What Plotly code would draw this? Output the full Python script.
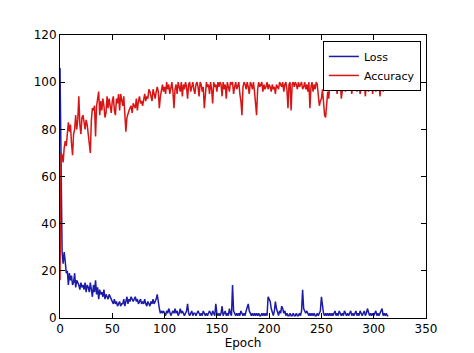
import plotly.graph_objects as go

accuracy = [
    16, 70, 69, 66, 72, 75, 73, 80, 83, 79,
    82, 74, 69, 78, 80, 86, 80, 84, 94, 82,
    78, 85, 86, 83, 80, 84, 82, 78, 75, 70,
    84, 89, 88, 90, 77, 90, 93, 96, 86, 92,
    88, 93, 90, 85, 87, 94, 89, 93, 90, 87,
    92, 94, 88, 86, 93, 91, 95, 88, 95, 92,
    90, 94, 86, 79, 85, 87, 88, 89, 90, 87,
    91, 90, 89, 93, 88, 92, 94, 91, 92, 90,
    93, 95, 92, 94, 93, 97, 96, 94, 92, 97,
    95, 93, 96, 98, 96, 89, 94, 97, 99, 96,
    98, 95, 100, 97, 99, 95, 98, 100, 96, 89,
    97, 99, 95, 100, 98, 96, 100, 94, 99, 97,
    100, 98, 93, 99, 100, 96, 98, 100, 97, 95,
    99, 100, 98, 94, 100, 99, 96, 98, 89, 97,
    100, 98, 99, 95, 100, 97, 91, 100, 98, 99,
    96, 100, 98, 100, 99, 94, 100, 97, 99, 93,
    100, 98, 96, 100, 99, 100, 95, 98, 100, 97,
    99, 100, 95, 92, 86, 98, 100, 99, 97, 100,
    98, 95, 100, 99, 97, 100, 96, 92, 86, 97,
    100, 98, 99, 100, 96, 99, 97, 98, 100, 97,
    99, 98, 96, 99, 97, 98, 95, 99, 98, 97,
    100, 99, 98, 100, 96, 99, 100, 97, 89, 99,
    100, 88, 99, 100, 98, 100, 99, 97, 100, 98,
    99, 100, 97, 98, 100, 97, 99, 96, 100, 89,
    98, 100, 96, 99, 97, 100, 99, 94, 90, 92,
    93, 97, 89, 86, 85, 90, 96, 93, 99, 97,
    100, 98, 97, 99, 100, 95, 99, 97, 100, 93,
    98, 100, 99, 96, 100, 98, 99, 97, 100, 95,
    99, 98, 100, 97, 96, 100, 99, 95, 98, 100,
    97, 99, 94, 100, 98, 96, 100, 97, 99, 95,
    100, 98, 96, 100, 97, 99, 94, 100, 98, 96,
    99, 100, 97, 99, 98,
]

loss = [
    106, 45, 28, 23, 28, 24, 19, 20, 14, 19,
    16, 18, 14, 15, 19, 13, 16, 15, 14, 12,
    15, 13, 14, 12, 15, 11, 14, 13, 11, 15,
    12, 9, 14, 11, 16, 10, 13, 8, 12, 10,
    11, 9, 12, 8, 10, 9, 8, 10, 9, 8,
    7, 6, 8, 6, 7, 5, 6, 7, 5, 6,
    6, 8, 5, 7, 9, 6, 8, 7, 9, 8,
    7, 8, 9, 7, 8, 6, 7, 8, 6, 7,
    6, 8, 6, 5, 7, 6, 5, 7, 6, 8,
    6, 7, 8, 10, 6, 4, 2, 3, 2, 3,
    2, 1, 3, 2, 4, 2, 1, 2, 3, 2,
    4, 2, 3, 1, 2, 4, 2, 3, 2, 1,
    2, 3, 6, 2, 1, 2, 3, 1, 2, 2,
    1, 2, 3, 2, 1, 2, 1, 3, 2, 1,
    2, 1, 2, 3, 2, 1, 3, 2, 1, 6,
    2, 1, 2, 1, 2, 5, 1, 2, 3, 1,
    2, 1, 4, 2, 1, 14, 3, 2, 1, 2,
    1, 2, 1, 3, 2, 1, 2, 1, 3, 5,
    6, 3, 2, 1, 2, 1, 2, 1, 2, 1,
    2, 1, 1, 2, 1, 2, 1, 2, 1, 9,
    8, 7, 4, 2, 1, 3, 7, 4, 2, 1,
    3, 2, 5, 4, 2, 3, 1, 2, 1, 1,
    2, 1, 1, 2, 1, 1, 2, 1, 1, 2,
    1, 3, 12, 4, 3, 2, 3, 2, 1, 2,
    1, 2, 1, 2, 1, 1, 2, 1, 2, 3,
    9, 4, 2, 1, 2, 1, 2, 1, 2, 1,
    2, 1, 2, 3, 1, 2, 1, 3, 2, 1,
    2, 1, 3, 2, 1, 2, 1, 2, 3, 1,
    2, 1, 2, 3, 1, 2, 1, 3, 2, 1,
    2, 3, 1, 2, 4, 2, 1, 2, 1, 2,
    1, 2, 3, 1, 2, 1, 2, 3, 4, 1,
    2, 1, 2, 1, 1,
]

epochs = list(range(len(loss)))

fig = go.Figure()
fig.add_trace(go.Scatter(x=epochs, y=loss, mode="lines", name="Loss",
                         line=dict(color="#1c1ca6", width=1.5)))
fig.add_trace(go.Scatter(x=epochs, y=accuracy, mode="lines", name="Accuracy",
                         line=dict(color="#d81414", width=1.5)))

axis_common = dict(showline=True, linecolor="black", linewidth=1, mirror="ticks",
                   ticks="inside", ticklen=5, tickcolor="black", showgrid=False,
                   zeroline=False, automargin=False,
                   tickfont=dict(family="DejaVu Sans", size=12, color="black"))

fig.update_layout(
    width=474, height=353,
    margin=dict(l=60, r=48, t=35, b=35),
    paper_bgcolor="white", plot_bgcolor="white",
    font=dict(family="DejaVu Sans", color="black"),
    xaxis=dict(range=[0, 350], dtick=50,
               title=dict(text="Epoch", font=dict(size=12), standoff=0), **axis_common),
    yaxis=dict(range=[0, 120], dtick=20, **axis_common),
    legend=dict(x=0.986, y=0.979, xanchor="right", yanchor="top",
                bordercolor="black", borderwidth=1, bgcolor="white",
                font=dict(family="DejaVu Sans", size=11), tracegroupgap=0,
                itemwidth=30),
    showlegend=True,
)

fig.write_html("out.html")
